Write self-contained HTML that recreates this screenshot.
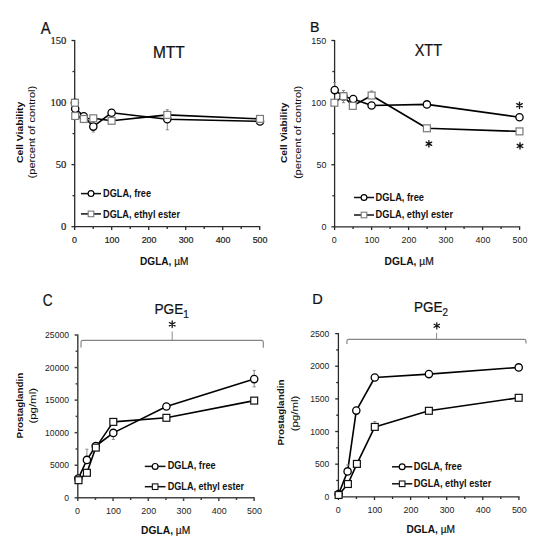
<!DOCTYPE html>
<html><head><meta charset="utf-8"><title>DGLA figure</title>
<style>html,body{margin:0;padding:0;background:#fff;width:550px;height:541px;overflow:hidden;font-family:"Liberation Sans", sans-serif;}
svg{display:block;}</style></head><body>
<svg width="550" height="541" viewBox="0 0 550 541">
<rect width="550" height="541" fill="#fff"/>
<line x1="74.7" y1="40" x2="74.7" y2="227.3" stroke="#2a2a2a" stroke-width="1.3"/>
<line x1="74.1" y1="226.7" x2="260.3" y2="226.7" stroke="#2a2a2a" stroke-width="1.3"/>
<line x1="71.5" y1="226.7" x2="74.7" y2="226.7" stroke="#2a2a2a" stroke-width="1.3"/>
<line x1="72.5" y1="195.67" x2="74.7" y2="195.67" stroke="#2a2a2a" stroke-width="1.3"/>
<text x="66.4" y="230.1" font-size="9.8" font-family='"Liberation Serif", serif' fill="#222" stroke="#222" stroke-width="0.2" text-anchor="end" textLength="5.3" lengthAdjust="spacingAndGlyphs">0</text>
<line x1="71.5" y1="164.63" x2="74.7" y2="164.63" stroke="#2a2a2a" stroke-width="1.3"/>
<line x1="72.5" y1="133.6" x2="74.7" y2="133.6" stroke="#2a2a2a" stroke-width="1.3"/>
<text x="66.4" y="168.03" font-size="9.8" font-family='"Liberation Serif", serif' fill="#222" stroke="#222" stroke-width="0.2" text-anchor="end" textLength="10.6" lengthAdjust="spacingAndGlyphs">50</text>
<line x1="71.5" y1="102.57" x2="74.7" y2="102.57" stroke="#2a2a2a" stroke-width="1.3"/>
<line x1="72.5" y1="71.53" x2="74.7" y2="71.53" stroke="#2a2a2a" stroke-width="1.3"/>
<text x="66.4" y="105.97" font-size="9.8" font-family='"Liberation Serif", serif' fill="#222" stroke="#222" stroke-width="0.2" text-anchor="end" textLength="15.9" lengthAdjust="spacingAndGlyphs">100</text>
<line x1="71.5" y1="40.5" x2="74.7" y2="40.5" stroke="#2a2a2a" stroke-width="1.3"/>
<text x="66.4" y="43.9" font-size="9.8" font-family='"Liberation Serif", serif' fill="#222" stroke="#222" stroke-width="0.2" text-anchor="end" textLength="15.9" lengthAdjust="spacingAndGlyphs">150</text>
<line x1="74.7" y1="226.7" x2="74.7" y2="229.9" stroke="#2a2a2a" stroke-width="1.3"/>
<line x1="93.2" y1="226.7" x2="93.2" y2="228.9" stroke="#2a2a2a" stroke-width="1.3"/>
<text x="74.4" y="243.2" font-size="8.6" font-family='"Liberation Sans", sans-serif' fill="#222" stroke="#222" stroke-width="0.2" text-anchor="middle" textLength="4.95" lengthAdjust="spacingAndGlyphs">0</text>
<line x1="111.7" y1="226.7" x2="111.7" y2="229.9" stroke="#2a2a2a" stroke-width="1.3"/>
<line x1="130.2" y1="226.7" x2="130.2" y2="228.9" stroke="#2a2a2a" stroke-width="1.3"/>
<text x="112.1" y="243.2" font-size="8.6" font-family='"Liberation Sans", sans-serif' fill="#222" stroke="#222" stroke-width="0.2" text-anchor="middle" textLength="14.85" lengthAdjust="spacingAndGlyphs">100</text>
<line x1="148.7" y1="226.7" x2="148.7" y2="229.9" stroke="#2a2a2a" stroke-width="1.3"/>
<line x1="167.2" y1="226.7" x2="167.2" y2="228.9" stroke="#2a2a2a" stroke-width="1.3"/>
<text x="149.1" y="243.2" font-size="8.6" font-family='"Liberation Sans", sans-serif' fill="#222" stroke="#222" stroke-width="0.2" text-anchor="middle" textLength="14.85" lengthAdjust="spacingAndGlyphs">200</text>
<line x1="185.7" y1="226.7" x2="185.7" y2="229.9" stroke="#2a2a2a" stroke-width="1.3"/>
<line x1="204.2" y1="226.7" x2="204.2" y2="228.9" stroke="#2a2a2a" stroke-width="1.3"/>
<text x="186.1" y="243.2" font-size="8.6" font-family='"Liberation Sans", sans-serif' fill="#222" stroke="#222" stroke-width="0.2" text-anchor="middle" textLength="14.85" lengthAdjust="spacingAndGlyphs">300</text>
<line x1="222.7" y1="226.7" x2="222.7" y2="229.9" stroke="#2a2a2a" stroke-width="1.3"/>
<line x1="241.2" y1="226.7" x2="241.2" y2="228.9" stroke="#2a2a2a" stroke-width="1.3"/>
<text x="223.1" y="243.2" font-size="8.6" font-family='"Liberation Sans", sans-serif' fill="#222" stroke="#222" stroke-width="0.2" text-anchor="middle" textLength="14.85" lengthAdjust="spacingAndGlyphs">400</text>
<line x1="259.7" y1="226.7" x2="259.7" y2="229.9" stroke="#2a2a2a" stroke-width="1.3"/>
<text x="260.1" y="243.2" font-size="8.6" font-family='"Liberation Sans", sans-serif' fill="#222" stroke="#222" stroke-width="0.2" text-anchor="middle" textLength="14.85" lengthAdjust="spacingAndGlyphs">500</text>
<polyline fill="none" stroke="#000" stroke-width="1.6" stroke-linejoin="round" points="74.9,102.7 75.2,108.7 83.8,116.2 93.3,126.6 111.6,112.7 167.3,119.2 260,121.4"/>
<polyline fill="none" stroke="#000" stroke-width="1.6" stroke-linejoin="round" points="74.9,102.7 75.2,116 83.8,119 93.3,118.3 111.6,120.8 167.3,114.9 260,118.9"/>
<line x1="93.3" y1="126.6" x2="93.3" y2="132" stroke="#888888" stroke-width="1"/>
<line x1="91.8" y1="132" x2="94.8" y2="132" stroke="#888888" stroke-width="1"/>
<line x1="167.3" y1="119.2" x2="167.3" y2="129.8" stroke="#888888" stroke-width="1"/>
<line x1="165.8" y1="129.8" x2="168.8" y2="129.8" stroke="#888888" stroke-width="1"/>
<circle cx="74.9" cy="102.7" r="3.65" fill="#fff" stroke="#000" stroke-width="1.3"/>
<circle cx="75.2" cy="108.7" r="3.65" fill="#fff" stroke="#000" stroke-width="1.3"/>
<circle cx="83.8" cy="116.2" r="3.65" fill="#fff" stroke="#000" stroke-width="1.3"/>
<circle cx="93.3" cy="126.6" r="3.65" fill="#fff" stroke="#000" stroke-width="1.3"/>
<circle cx="111.6" cy="112.7" r="3.65" fill="#fff" stroke="#000" stroke-width="1.3"/>
<circle cx="167.3" cy="119.2" r="3.65" fill="#fff" stroke="#000" stroke-width="1.3"/>
<circle cx="260" cy="121.4" r="3.65" fill="#fff" stroke="#000" stroke-width="1.3"/>
<line x1="167.3" y1="114.9" x2="167.3" y2="109.7" stroke="#888888" stroke-width="1"/>
<line x1="165.8" y1="109.7" x2="168.8" y2="109.7" stroke="#888888" stroke-width="1"/>
<rect x="71.45" y="99.25" width="6.9" height="6.9" fill="#fff" stroke="#7a7a7a" stroke-width="1.2"/>
<rect x="71.75" y="112.55" width="6.9" height="6.9" fill="#fff" stroke="#7a7a7a" stroke-width="1.2"/>
<rect x="80.35" y="115.55" width="6.9" height="6.9" fill="#fff" stroke="#7a7a7a" stroke-width="1.2"/>
<rect x="89.85" y="114.85" width="6.9" height="6.9" fill="#fff" stroke="#7a7a7a" stroke-width="1.2"/>
<rect x="108.15" y="117.35" width="6.9" height="6.9" fill="#fff" stroke="#7a7a7a" stroke-width="1.2"/>
<rect x="163.85" y="111.45" width="6.9" height="6.9" fill="#fff" stroke="#7a7a7a" stroke-width="1.2"/>
<rect x="256.55" y="115.45" width="6.9" height="6.9" fill="#fff" stroke="#7a7a7a" stroke-width="1.2"/>
<text x="40.8" y="33.8" font-size="16" font-family='"Liberation Sans", sans-serif' fill="#111" stroke="#111" stroke-width="0.22" textLength="9.9" lengthAdjust="spacingAndGlyphs">A</text>
<text x="152.9" y="57.9" font-size="16.4" font-family='"Liberation Sans", sans-serif' fill="#111" stroke="#111" stroke-width="0.22" textLength="31.8" lengthAdjust="spacingAndGlyphs">MTT</text>
<line x1="81" y1="193.6" x2="101" y2="193.6" stroke="#111" stroke-width="1.5"/>
<circle cx="91" cy="193.6" r="2.9" fill="#fff" stroke="#000" stroke-width="1.2"/>
<line x1="81" y1="213.9" x2="101" y2="213.9" stroke="#111" stroke-width="1.5"/>
<rect x="88.2" y="211.1" width="5.6" height="5.6" fill="#fff" stroke="#7a7a7a" stroke-width="1.1"/>
<text x="103" y="197.2" font-size="10.6" font-family='"Liberation Sans", sans-serif' fill="#111" font-weight="bold" textLength="48" lengthAdjust="spacingAndGlyphs">DGLA, free</text>
<text x="103" y="217.5" font-size="10.6" font-family='"Liberation Sans", sans-serif' fill="#111" font-weight="bold" textLength="77" lengthAdjust="spacingAndGlyphs">DGLA, ethyl ester</text>
<text x="140" y="265" font-size="10.6" font-family='"Liberation Sans", sans-serif' fill="#111" font-weight="bold" textLength="48.4" lengthAdjust="spacingAndGlyphs">DGLA,<tspan font-weight="normal" stroke="#111" stroke-width="0.2"> µM</tspan></text>
<text x="23" y="132.4" font-size="9.8" font-family='"Liberation Sans", sans-serif' fill="#111" text-anchor="middle" font-weight="bold" textLength="61.4" lengthAdjust="spacingAndGlyphs" transform="rotate(-90 23 132.4)">Cell Viability</text>
<text x="35.4" y="132.1" font-size="9.2" font-family='"Liberation Sans", sans-serif' fill="#111" stroke="#111" stroke-width="0.06" text-anchor="middle" textLength="92.6" lengthAdjust="spacingAndGlyphs" transform="rotate(-90 35.4 132.1)">(percent of control)</text>
<line x1="334.6" y1="40" x2="334.6" y2="227.4" stroke="#2a2a2a" stroke-width="1.3"/>
<line x1="334" y1="226.8" x2="520.2" y2="226.8" stroke="#2a2a2a" stroke-width="1.3"/>
<line x1="331.4" y1="226.8" x2="334.6" y2="226.8" stroke="#2a2a2a" stroke-width="1.3"/>
<line x1="332.4" y1="195.75" x2="334.6" y2="195.75" stroke="#2a2a2a" stroke-width="1.3"/>
<text x="326.4" y="230.1" font-size="9" font-family='"Liberation Sans", sans-serif' fill="#222" text-anchor="end">0</text>
<line x1="331.4" y1="164.7" x2="334.6" y2="164.7" stroke="#2a2a2a" stroke-width="1.3"/>
<line x1="332.4" y1="133.65" x2="334.6" y2="133.65" stroke="#2a2a2a" stroke-width="1.3"/>
<text x="326.4" y="168" font-size="9" font-family='"Liberation Sans", sans-serif' fill="#222" text-anchor="end">50</text>
<line x1="331.4" y1="102.6" x2="334.6" y2="102.6" stroke="#2a2a2a" stroke-width="1.3"/>
<line x1="332.4" y1="71.55" x2="334.6" y2="71.55" stroke="#2a2a2a" stroke-width="1.3"/>
<text x="326.4" y="105.9" font-size="9" font-family='"Liberation Sans", sans-serif' fill="#222" text-anchor="end">100</text>
<line x1="331.4" y1="40.5" x2="334.6" y2="40.5" stroke="#2a2a2a" stroke-width="1.3"/>
<text x="326.4" y="43.8" font-size="9" font-family='"Liberation Sans", sans-serif' fill="#222" text-anchor="end">150</text>
<line x1="334.6" y1="226.8" x2="334.6" y2="230" stroke="#2a2a2a" stroke-width="1.3"/>
<line x1="353.1" y1="226.8" x2="353.1" y2="229" stroke="#2a2a2a" stroke-width="1.3"/>
<text x="334.3" y="243.2" font-size="8.6" font-family='"Liberation Sans", sans-serif' fill="#222" text-anchor="middle" textLength="4.95" lengthAdjust="spacingAndGlyphs">0</text>
<line x1="371.6" y1="226.8" x2="371.6" y2="230" stroke="#2a2a2a" stroke-width="1.3"/>
<line x1="390.1" y1="226.8" x2="390.1" y2="229" stroke="#2a2a2a" stroke-width="1.3"/>
<text x="372" y="243.2" font-size="8.6" font-family='"Liberation Sans", sans-serif' fill="#222" text-anchor="middle" textLength="14.85" lengthAdjust="spacingAndGlyphs">100</text>
<line x1="408.6" y1="226.8" x2="408.6" y2="230" stroke="#2a2a2a" stroke-width="1.3"/>
<line x1="427.1" y1="226.8" x2="427.1" y2="229" stroke="#2a2a2a" stroke-width="1.3"/>
<text x="409" y="243.2" font-size="8.6" font-family='"Liberation Sans", sans-serif' fill="#222" text-anchor="middle" textLength="14.85" lengthAdjust="spacingAndGlyphs">200</text>
<line x1="445.6" y1="226.8" x2="445.6" y2="230" stroke="#2a2a2a" stroke-width="1.3"/>
<line x1="464.1" y1="226.8" x2="464.1" y2="229" stroke="#2a2a2a" stroke-width="1.3"/>
<text x="446" y="243.2" font-size="8.6" font-family='"Liberation Sans", sans-serif' fill="#222" text-anchor="middle" textLength="14.85" lengthAdjust="spacingAndGlyphs">300</text>
<line x1="482.6" y1="226.8" x2="482.6" y2="230" stroke="#2a2a2a" stroke-width="1.3"/>
<line x1="501.1" y1="226.8" x2="501.1" y2="229" stroke="#2a2a2a" stroke-width="1.3"/>
<text x="483" y="243.2" font-size="8.6" font-family='"Liberation Sans", sans-serif' fill="#222" text-anchor="middle" textLength="14.85" lengthAdjust="spacingAndGlyphs">400</text>
<line x1="519.6" y1="226.8" x2="519.6" y2="230" stroke="#2a2a2a" stroke-width="1.3"/>
<text x="520" y="243.2" font-size="8.6" font-family='"Liberation Sans", sans-serif' fill="#222" text-anchor="middle" textLength="14.85" lengthAdjust="spacingAndGlyphs">500</text>
<polyline fill="none" stroke="#000" stroke-width="1.6" stroke-linejoin="round" points="334.7,90.1 343.5,96.4 353.2,99.1 371.6,105.5 426.9,104.4 519.5,117.2"/>
<polyline fill="none" stroke="#000" stroke-width="1.6" stroke-linejoin="round" points="334.4,102.7 343.5,96.2 352.8,105.9 371.6,95.5 426.9,128.3 519.5,131.4"/>
<line x1="334.7" y1="90.1" x2="334.7" y2="82.5" stroke="#888888" stroke-width="1"/>
<line x1="333.2" y1="82.5" x2="336.2" y2="82.5" stroke="#888888" stroke-width="1"/>
<circle cx="334.7" cy="90.1" r="3.65" fill="#fff" stroke="#000" stroke-width="1.3"/>
<circle cx="343.5" cy="96.4" r="3.65" fill="#fff" stroke="#000" stroke-width="1.3"/>
<circle cx="353.2" cy="99.1" r="3.65" fill="#fff" stroke="#000" stroke-width="1.3"/>
<circle cx="371.6" cy="105.5" r="3.65" fill="#fff" stroke="#000" stroke-width="1.3"/>
<circle cx="426.9" cy="104.4" r="3.65" fill="#fff" stroke="#000" stroke-width="1.3"/>
<circle cx="519.5" cy="117.2" r="3.65" fill="#fff" stroke="#000" stroke-width="1.3"/>
<line x1="343.5" y1="96.2" x2="343.5" y2="90.4" stroke="#888888" stroke-width="1"/>
<line x1="342" y1="90.4" x2="345" y2="90.4" stroke="#888888" stroke-width="1"/>
<line x1="343.5" y1="96.2" x2="343.5" y2="102.7" stroke="#888888" stroke-width="1"/>
<line x1="342" y1="102.7" x2="345" y2="102.7" stroke="#888888" stroke-width="1"/>
<line x1="371.6" y1="95.5" x2="371.6" y2="91" stroke="#888888" stroke-width="1"/>
<line x1="370.1" y1="91" x2="373.1" y2="91" stroke="#888888" stroke-width="1"/>
<rect x="330.95" y="99.25" width="6.9" height="6.9" fill="#fff" stroke="#7a7a7a" stroke-width="1.2"/>
<rect x="340.05" y="92.75" width="6.9" height="6.9" fill="#fff" stroke="#7a7a7a" stroke-width="1.2"/>
<rect x="349.35" y="102.45" width="6.9" height="6.9" fill="#fff" stroke="#7a7a7a" stroke-width="1.2"/>
<rect x="368.15" y="92.05" width="6.9" height="6.9" fill="#fff" stroke="#7a7a7a" stroke-width="1.2"/>
<rect x="423.45" y="124.85" width="6.9" height="6.9" fill="#fff" stroke="#7a7a7a" stroke-width="1.2"/>
<rect x="516.05" y="127.95" width="6.9" height="6.9" fill="#fff" stroke="#7a7a7a" stroke-width="1.2"/>
<text x="310.1" y="31.9" font-size="15.5" font-family='"Liberation Sans", sans-serif' fill="#111" stroke="#111" stroke-width="0.22" textLength="9.5" lengthAdjust="spacingAndGlyphs">B</text>
<text x="414.7" y="55.7" font-size="15.8" font-family='"Liberation Sans", sans-serif' fill="#111" stroke="#111" stroke-width="0.22" textLength="27.3" lengthAdjust="spacingAndGlyphs">XTT</text>
<line x1="354" y1="197.5" x2="374" y2="197.5" stroke="#111" stroke-width="1.5"/>
<circle cx="364" cy="197.5" r="2.9" fill="#fff" stroke="#000" stroke-width="1.2"/>
<line x1="354" y1="215" x2="374" y2="215" stroke="#111" stroke-width="1.5"/>
<rect x="361.2" y="212.2" width="5.6" height="5.6" fill="#fff" stroke="#7a7a7a" stroke-width="1.1"/>
<text x="375.6" y="201" font-size="10.6" font-family='"Liberation Sans", sans-serif' fill="#111" font-weight="bold" textLength="48.4" lengthAdjust="spacingAndGlyphs">DGLA, free</text>
<text x="375.6" y="218.3" font-size="10.6" font-family='"Liberation Sans", sans-serif' fill="#111" font-weight="bold" textLength="77.4" lengthAdjust="spacingAndGlyphs">DGLA, ethyl ester</text>
<text x="384.6" y="264.9" font-size="10.6" font-family='"Liberation Sans", sans-serif' fill="#111" font-weight="bold" textLength="49.1" lengthAdjust="spacingAndGlyphs">DGLA,<tspan font-weight="normal" stroke="#111" stroke-width="0.2"> µM</tspan></text>
<text x="287.3" y="132.9" font-size="9.8" font-family='"Liberation Sans", sans-serif' fill="#111" text-anchor="middle" font-weight="bold" textLength="60.4" lengthAdjust="spacingAndGlyphs" transform="rotate(-90 287.3 132.9)">Cell Viability</text>
<text x="301" y="132.4" font-size="9.2" font-family='"Liberation Sans", sans-serif' fill="#111" stroke="#111" stroke-width="0.06" text-anchor="middle" textLength="93.4" lengthAdjust="spacingAndGlyphs" transform="rotate(-90 301 132.4)">(percent of control)</text>
<path d="M428.9,140.6 L428.9,147 M426.13,142.2 L431.67,145.4 M431.67,142.2 L426.13,145.4" stroke="#111" stroke-width="1.35" stroke-linecap="round" fill="none"/>
<path d="M519.5,102.1 L519.5,108.5 M516.73,103.7 L522.27,106.9 M522.27,103.7 L516.73,106.9" stroke="#111" stroke-width="1.35" stroke-linecap="round" fill="none"/>
<path d="M520,142.7 L520,149.1 M517.23,144.3 L522.77,147.5 M522.77,144.3 L517.23,147.5" stroke="#111" stroke-width="1.35" stroke-linecap="round" fill="none"/>
<line x1="77.8" y1="334.5" x2="77.8" y2="498.4" stroke="#444" stroke-width="1.5"/>
<line x1="77.2" y1="497.8" x2="254.7" y2="497.8" stroke="#444" stroke-width="1.5"/>
<line x1="74.6" y1="497.8" x2="77.8" y2="497.8" stroke="#444" stroke-width="1.5"/>
<line x1="75.6" y1="481.52" x2="77.8" y2="481.52" stroke="#444" stroke-width="1.5"/>
<text x="69" y="501" font-size="8.6" font-family='"Liberation Sans", sans-serif' fill="#222" text-anchor="end">0</text>
<line x1="74.6" y1="465.24" x2="77.8" y2="465.24" stroke="#444" stroke-width="1.5"/>
<line x1="75.6" y1="448.96" x2="77.8" y2="448.96" stroke="#444" stroke-width="1.5"/>
<text x="69" y="468.44" font-size="8.6" font-family='"Liberation Sans", sans-serif' fill="#222" text-anchor="end">5000</text>
<line x1="74.6" y1="432.68" x2="77.8" y2="432.68" stroke="#444" stroke-width="1.5"/>
<line x1="75.6" y1="416.4" x2="77.8" y2="416.4" stroke="#444" stroke-width="1.5"/>
<text x="69" y="435.88" font-size="8.6" font-family='"Liberation Sans", sans-serif' fill="#222" text-anchor="end">10000</text>
<line x1="74.6" y1="400.12" x2="77.8" y2="400.12" stroke="#444" stroke-width="1.5"/>
<line x1="75.6" y1="383.84" x2="77.8" y2="383.84" stroke="#444" stroke-width="1.5"/>
<text x="69" y="403.32" font-size="8.6" font-family='"Liberation Sans", sans-serif' fill="#222" text-anchor="end">15000</text>
<line x1="74.6" y1="367.56" x2="77.8" y2="367.56" stroke="#444" stroke-width="1.5"/>
<line x1="75.6" y1="351.28" x2="77.8" y2="351.28" stroke="#444" stroke-width="1.5"/>
<text x="69" y="370.76" font-size="8.6" font-family='"Liberation Sans", sans-serif' fill="#222" text-anchor="end">20000</text>
<line x1="74.6" y1="335" x2="77.8" y2="335" stroke="#444" stroke-width="1.5"/>
<text x="69" y="338.2" font-size="8.6" font-family='"Liberation Sans", sans-serif' fill="#222" text-anchor="end">25000</text>
<line x1="77.8" y1="497.8" x2="77.8" y2="501" stroke="#444" stroke-width="1.5"/>
<line x1="95.43" y1="497.8" x2="95.43" y2="500" stroke="#444" stroke-width="1.5"/>
<text x="77.5" y="513.6" font-size="8.6" font-family='"Liberation Sans", sans-serif' fill="#222" text-anchor="middle" textLength="4.95" lengthAdjust="spacingAndGlyphs">0</text>
<line x1="113.06" y1="497.8" x2="113.06" y2="501" stroke="#444" stroke-width="1.5"/>
<line x1="130.69" y1="497.8" x2="130.69" y2="500" stroke="#444" stroke-width="1.5"/>
<text x="113.46" y="513.6" font-size="8.6" font-family='"Liberation Sans", sans-serif' fill="#222" text-anchor="middle" textLength="14.85" lengthAdjust="spacingAndGlyphs">100</text>
<line x1="148.32" y1="497.8" x2="148.32" y2="501" stroke="#444" stroke-width="1.5"/>
<line x1="165.95" y1="497.8" x2="165.95" y2="500" stroke="#444" stroke-width="1.5"/>
<text x="148.72" y="513.6" font-size="8.6" font-family='"Liberation Sans", sans-serif' fill="#222" text-anchor="middle" textLength="14.85" lengthAdjust="spacingAndGlyphs">200</text>
<line x1="183.58" y1="497.8" x2="183.58" y2="501" stroke="#444" stroke-width="1.5"/>
<line x1="201.21" y1="497.8" x2="201.21" y2="500" stroke="#444" stroke-width="1.5"/>
<text x="183.98" y="513.6" font-size="8.6" font-family='"Liberation Sans", sans-serif' fill="#222" text-anchor="middle" textLength="14.85" lengthAdjust="spacingAndGlyphs">300</text>
<line x1="218.84" y1="497.8" x2="218.84" y2="501" stroke="#444" stroke-width="1.5"/>
<line x1="236.47" y1="497.8" x2="236.47" y2="500" stroke="#444" stroke-width="1.5"/>
<text x="219.24" y="513.6" font-size="8.6" font-family='"Liberation Sans", sans-serif' fill="#222" text-anchor="middle" textLength="14.85" lengthAdjust="spacingAndGlyphs">400</text>
<line x1="254.1" y1="497.8" x2="254.1" y2="501" stroke="#444" stroke-width="1.5"/>
<text x="254.5" y="513.6" font-size="8.6" font-family='"Liberation Sans", sans-serif' fill="#222" text-anchor="middle" textLength="14.85" lengthAdjust="spacingAndGlyphs">500</text>
<polyline fill="none" stroke="#000" stroke-width="1.6" stroke-linejoin="round" points="78.3,478.5 86.9,459.9 95.8,446 113.3,432.9 166.4,406.5 254.2,379.1"/>
<polyline fill="none" stroke="#000" stroke-width="1.6" stroke-linejoin="round" points="78.5,480.2 86.9,472.8 95.8,447.6 113.3,421.9 166.4,417.8 254.2,400.6"/>
<line x1="86.9" y1="459.9" x2="86.9" y2="449.2" stroke="#888888" stroke-width="1"/>
<line x1="85.4" y1="449.2" x2="88.4" y2="449.2" stroke="#888888" stroke-width="1"/>
<line x1="113.3" y1="432.9" x2="113.3" y2="439.4" stroke="#888888" stroke-width="1"/>
<line x1="111.8" y1="439.4" x2="114.8" y2="439.4" stroke="#888888" stroke-width="1"/>
<line x1="254.2" y1="379.1" x2="254.2" y2="370.4" stroke="#888888" stroke-width="1"/>
<line x1="252.7" y1="370.4" x2="255.7" y2="370.4" stroke="#888888" stroke-width="1"/>
<line x1="254.2" y1="379.1" x2="254.2" y2="386.8" stroke="#888888" stroke-width="1"/>
<line x1="252.7" y1="386.8" x2="255.7" y2="386.8" stroke="#888888" stroke-width="1"/>
<circle cx="78.3" cy="478.5" r="3.65" fill="#fff" stroke="#000" stroke-width="1.3"/>
<circle cx="86.9" cy="459.9" r="3.65" fill="#fff" stroke="#000" stroke-width="1.3"/>
<circle cx="95.8" cy="446" r="3.65" fill="#fff" stroke="#000" stroke-width="1.3"/>
<circle cx="113.3" cy="432.9" r="3.65" fill="#fff" stroke="#000" stroke-width="1.3"/>
<circle cx="166.4" cy="406.5" r="3.65" fill="#fff" stroke="#000" stroke-width="1.3"/>
<circle cx="254.2" cy="379.1" r="3.65" fill="#fff" stroke="#000" stroke-width="1.3"/>
<rect x="75.05" y="476.75" width="6.9" height="6.9" fill="#fff" stroke="#111" stroke-width="1.2"/>
<rect x="83.45" y="469.35" width="6.9" height="6.9" fill="#fff" stroke="#111" stroke-width="1.2"/>
<rect x="92.35" y="444.15" width="6.9" height="6.9" fill="#fff" stroke="#111" stroke-width="1.2"/>
<rect x="109.85" y="418.45" width="6.9" height="6.9" fill="#fff" stroke="#111" stroke-width="1.2"/>
<rect x="162.95" y="414.35" width="6.9" height="6.9" fill="#fff" stroke="#111" stroke-width="1.2"/>
<rect x="250.75" y="397.15" width="6.9" height="6.9" fill="#fff" stroke="#111" stroke-width="1.2"/>
<text x="42.8" y="305.6" font-size="15.6" font-family='"Liberation Sans", sans-serif' fill="#111" stroke="#111" stroke-width="0.22" textLength="9.9" lengthAdjust="spacingAndGlyphs">C</text>
<text x="154.5" y="313.9" font-size="14.8" font-family='"Liberation Sans", sans-serif' fill="#111" stroke="#111" stroke-width="0.22" textLength="34.4" lengthAdjust="spacingAndGlyphs">PGE<tspan font-size="10.8" dy="3.6">1</tspan></text>
<path d="M172.2,320.9 L172.2,327.5 M169.34,322.55 L175.06,325.85 M175.06,322.55 L169.34,325.85" stroke="#111" stroke-width="1.25" stroke-linecap="round" fill="none"/>
<path d="M81,347.5 L81,342.1 Q81,340.3 82.8,340.3 L261.5,340.3 Q263.3,340.3 263.3,342.1 L263.3,347.8" fill="none" stroke="#858585" stroke-width="1.15"/>
<path d="M172.2,340.3 L172.2,331.4" fill="none" stroke="#858585" stroke-width="0.95"/>
<line x1="144.8" y1="466.4" x2="165.5" y2="466.4" stroke="#111" stroke-width="1.5"/>
<circle cx="155.15" cy="466.4" r="2.9" fill="#fff" stroke="#000" stroke-width="1.2"/>
<line x1="144.8" y1="486.7" x2="165.5" y2="486.7" stroke="#111" stroke-width="1.5"/>
<rect x="152.35" y="483.9" width="5.6" height="5.6" fill="#fff" stroke="#111" stroke-width="1.1"/>
<text x="167.7" y="469.2" font-size="10.6" font-family='"Liberation Sans", sans-serif' fill="#111" font-weight="bold" textLength="48" lengthAdjust="spacingAndGlyphs">DGLA, free</text>
<text x="167.7" y="489.7" font-size="10.6" font-family='"Liberation Sans", sans-serif' fill="#111" font-weight="bold" textLength="76.4" lengthAdjust="spacingAndGlyphs">DGLA, ethyl ester</text>
<text x="141.1" y="533.7" font-size="10.6" font-family='"Liberation Sans", sans-serif' fill="#111" font-weight="bold" textLength="49.2" lengthAdjust="spacingAndGlyphs">DGLA,<tspan font-weight="normal" stroke="#111" stroke-width="0.2"> µM</tspan></text>
<text x="23.1" y="405.6" font-size="9.8" font-family='"Liberation Sans", sans-serif' fill="#111" text-anchor="middle" font-weight="bold" textLength="65.7" lengthAdjust="spacingAndGlyphs" transform="rotate(-90 23.1 405.6)">Prostaglandin</text>
<text x="36.2" y="405.8" font-size="9.2" font-family='"Liberation Sans", sans-serif' fill="#111" stroke="#111" stroke-width="0.06" text-anchor="middle" textLength="35.6" lengthAdjust="spacingAndGlyphs" transform="rotate(-90 36.2 405.8)">(pg/ml)</text>
<line x1="338.4" y1="333.1" x2="338.4" y2="497.4" stroke="#2a2a2a" stroke-width="1.3"/>
<line x1="337.8" y1="496.8" x2="519.5" y2="496.8" stroke="#2a2a2a" stroke-width="1.3"/>
<line x1="335.2" y1="496.8" x2="338.4" y2="496.8" stroke="#2a2a2a" stroke-width="1.3"/>
<line x1="336.2" y1="480.48" x2="338.4" y2="480.48" stroke="#2a2a2a" stroke-width="1.3"/>
<text x="329.3" y="500" font-size="8.6" font-family='"Liberation Sans", sans-serif' fill="#222" text-anchor="end">0</text>
<line x1="335.2" y1="464.16" x2="338.4" y2="464.16" stroke="#2a2a2a" stroke-width="1.3"/>
<line x1="336.2" y1="447.84" x2="338.4" y2="447.84" stroke="#2a2a2a" stroke-width="1.3"/>
<text x="329.3" y="467.36" font-size="8.6" font-family='"Liberation Sans", sans-serif' fill="#222" text-anchor="end">500</text>
<line x1="335.2" y1="431.52" x2="338.4" y2="431.52" stroke="#2a2a2a" stroke-width="1.3"/>
<line x1="336.2" y1="415.2" x2="338.4" y2="415.2" stroke="#2a2a2a" stroke-width="1.3"/>
<text x="329.3" y="434.72" font-size="8.6" font-family='"Liberation Sans", sans-serif' fill="#222" text-anchor="end">1000</text>
<line x1="335.2" y1="398.88" x2="338.4" y2="398.88" stroke="#2a2a2a" stroke-width="1.3"/>
<line x1="336.2" y1="382.56" x2="338.4" y2="382.56" stroke="#2a2a2a" stroke-width="1.3"/>
<text x="329.3" y="402.08" font-size="8.6" font-family='"Liberation Sans", sans-serif' fill="#222" text-anchor="end">1500</text>
<line x1="335.2" y1="366.24" x2="338.4" y2="366.24" stroke="#2a2a2a" stroke-width="1.3"/>
<line x1="336.2" y1="349.92" x2="338.4" y2="349.92" stroke="#2a2a2a" stroke-width="1.3"/>
<text x="329.3" y="369.44" font-size="8.6" font-family='"Liberation Sans", sans-serif' fill="#222" text-anchor="end">2000</text>
<line x1="335.2" y1="333.6" x2="338.4" y2="333.6" stroke="#2a2a2a" stroke-width="1.3"/>
<text x="329.3" y="336.8" font-size="8.6" font-family='"Liberation Sans", sans-serif' fill="#222" text-anchor="end">2500</text>
<line x1="338.4" y1="496.8" x2="338.4" y2="500" stroke="#2a2a2a" stroke-width="1.3"/>
<line x1="356.45" y1="496.8" x2="356.45" y2="499" stroke="#2a2a2a" stroke-width="1.3"/>
<text x="338.1" y="513.3" font-size="8.6" font-family='"Liberation Sans", sans-serif' fill="#222" text-anchor="middle" textLength="4.95" lengthAdjust="spacingAndGlyphs">0</text>
<line x1="374.5" y1="496.8" x2="374.5" y2="500" stroke="#2a2a2a" stroke-width="1.3"/>
<line x1="392.55" y1="496.8" x2="392.55" y2="499" stroke="#2a2a2a" stroke-width="1.3"/>
<text x="374.9" y="513.3" font-size="8.6" font-family='"Liberation Sans", sans-serif' fill="#222" text-anchor="middle" textLength="14.85" lengthAdjust="spacingAndGlyphs">100</text>
<line x1="410.6" y1="496.8" x2="410.6" y2="500" stroke="#2a2a2a" stroke-width="1.3"/>
<line x1="428.65" y1="496.8" x2="428.65" y2="499" stroke="#2a2a2a" stroke-width="1.3"/>
<text x="411" y="513.3" font-size="8.6" font-family='"Liberation Sans", sans-serif' fill="#222" text-anchor="middle" textLength="14.85" lengthAdjust="spacingAndGlyphs">200</text>
<line x1="446.7" y1="496.8" x2="446.7" y2="500" stroke="#2a2a2a" stroke-width="1.3"/>
<line x1="464.75" y1="496.8" x2="464.75" y2="499" stroke="#2a2a2a" stroke-width="1.3"/>
<text x="447.1" y="513.3" font-size="8.6" font-family='"Liberation Sans", sans-serif' fill="#222" text-anchor="middle" textLength="14.85" lengthAdjust="spacingAndGlyphs">300</text>
<line x1="482.8" y1="496.8" x2="482.8" y2="500" stroke="#2a2a2a" stroke-width="1.3"/>
<line x1="500.85" y1="496.8" x2="500.85" y2="499" stroke="#2a2a2a" stroke-width="1.3"/>
<text x="483.2" y="513.3" font-size="8.6" font-family='"Liberation Sans", sans-serif' fill="#222" text-anchor="middle" textLength="14.85" lengthAdjust="spacingAndGlyphs">400</text>
<line x1="518.9" y1="496.8" x2="518.9" y2="500" stroke="#2a2a2a" stroke-width="1.3"/>
<text x="519.3" y="513.3" font-size="8.6" font-family='"Liberation Sans", sans-serif' fill="#222" text-anchor="middle" textLength="14.85" lengthAdjust="spacingAndGlyphs">500</text>
<polyline fill="none" stroke="#000" stroke-width="1.6" stroke-linejoin="round" points="338.6,494 347.6,471.4 356.3,410.6 374.8,377.5 428.9,374.1 518.7,367.4"/>
<polyline fill="none" stroke="#000" stroke-width="1.6" stroke-linejoin="round" points="338.6,495 347.9,484 356.9,463.9 374.8,426.9 428.9,410.8 518.7,397.8"/>
<line x1="347.6" y1="471.4" x2="347.6" y2="465" stroke="#888888" stroke-width="1"/>
<line x1="346.1" y1="465" x2="349.1" y2="465" stroke="#888888" stroke-width="1"/>
<circle cx="338.6" cy="494" r="3.65" fill="#fff" stroke="#000" stroke-width="1.3"/>
<circle cx="347.6" cy="471.4" r="3.65" fill="#fff" stroke="#000" stroke-width="1.3"/>
<circle cx="356.3" cy="410.6" r="3.65" fill="#fff" stroke="#000" stroke-width="1.3"/>
<circle cx="374.8" cy="377.5" r="3.65" fill="#fff" stroke="#000" stroke-width="1.3"/>
<circle cx="428.9" cy="374.1" r="3.65" fill="#fff" stroke="#000" stroke-width="1.3"/>
<circle cx="518.7" cy="367.4" r="3.65" fill="#fff" stroke="#000" stroke-width="1.3"/>
<line x1="374.8" y1="426.9" x2="374.8" y2="421.6" stroke="#888888" stroke-width="1"/>
<line x1="373.3" y1="421.6" x2="376.3" y2="421.6" stroke="#888888" stroke-width="1"/>
<rect x="335.15" y="491.55" width="6.9" height="6.9" fill="#fff" stroke="#111" stroke-width="1.2"/>
<rect x="344.45" y="480.55" width="6.9" height="6.9" fill="#fff" stroke="#111" stroke-width="1.2"/>
<rect x="353.45" y="460.45" width="6.9" height="6.9" fill="#fff" stroke="#111" stroke-width="1.2"/>
<rect x="371.35" y="423.45" width="6.9" height="6.9" fill="#fff" stroke="#111" stroke-width="1.2"/>
<rect x="425.45" y="407.35" width="6.9" height="6.9" fill="#fff" stroke="#111" stroke-width="1.2"/>
<rect x="515.25" y="394.35" width="6.9" height="6.9" fill="#fff" stroke="#111" stroke-width="1.2"/>
<text x="312.3" y="304" font-size="15.5" font-family='"Liberation Sans", sans-serif' fill="#111" stroke="#111" stroke-width="0.22" textLength="10.5" lengthAdjust="spacingAndGlyphs">D</text>
<text x="414" y="311.9" font-size="14.8" font-family='"Liberation Sans", sans-serif' fill="#111" stroke="#111" stroke-width="0.22" textLength="34" lengthAdjust="spacingAndGlyphs">PGE<tspan font-size="10.8" dy="3.6">2</tspan></text>
<path d="M436.8,322.7 L436.8,328.9 M434.12,324.25 L439.48,327.35 M439.48,324.25 L434.12,327.35" stroke="#111" stroke-width="1.2" stroke-linecap="round" fill="none"/>
<path d="M346.9,344 L346.9,341.2 Q346.9,339.4 348.7,339.4 L524.2,339.4 Q526,339.4 526,341.2 L526,343.6" fill="none" stroke="#858585" stroke-width="1.15"/>
<path d="M436.6,339.4 L436.6,332.8" fill="none" stroke="#858585" stroke-width="0.95"/>
<line x1="392" y1="466.8" x2="412.3" y2="466.8" stroke="#111" stroke-width="1.5"/>
<circle cx="402.15" cy="466.8" r="2.9" fill="#fff" stroke="#000" stroke-width="1.2"/>
<line x1="392" y1="483.8" x2="412.3" y2="483.8" stroke="#111" stroke-width="1.5"/>
<rect x="399.35" y="481" width="5.6" height="5.6" fill="#fff" stroke="#111" stroke-width="1.1"/>
<text x="413.8" y="469.6" font-size="10.6" font-family='"Liberation Sans", sans-serif' fill="#111" font-weight="bold" textLength="48" lengthAdjust="spacingAndGlyphs">DGLA, free</text>
<text x="413.8" y="486.7" font-size="10.6" font-family='"Liberation Sans", sans-serif' fill="#111" font-weight="bold" textLength="77.5" lengthAdjust="spacingAndGlyphs">DGLA, ethyl ester</text>
<text x="406.4" y="532.8" font-size="10.6" font-family='"Liberation Sans", sans-serif' fill="#111" font-weight="bold" textLength="48.6" lengthAdjust="spacingAndGlyphs">DGLA,<tspan font-weight="normal" stroke="#111" stroke-width="0.2"> µM</tspan></text>
<text x="284.1" y="412.5" font-size="9.8" font-family='"Liberation Sans", sans-serif' fill="#111" text-anchor="middle" font-weight="bold" textLength="66.2" lengthAdjust="spacingAndGlyphs" transform="rotate(-90 284.1 412.5)">Prostaglandin</text>
<text x="298.4" y="413.4" font-size="9.2" font-family='"Liberation Sans", sans-serif' fill="#111" stroke="#111" stroke-width="0.06" text-anchor="middle" textLength="35.6" lengthAdjust="spacingAndGlyphs" transform="rotate(-90 298.4 413.4)">(pg/ml)</text>
</svg>
</body></html>
